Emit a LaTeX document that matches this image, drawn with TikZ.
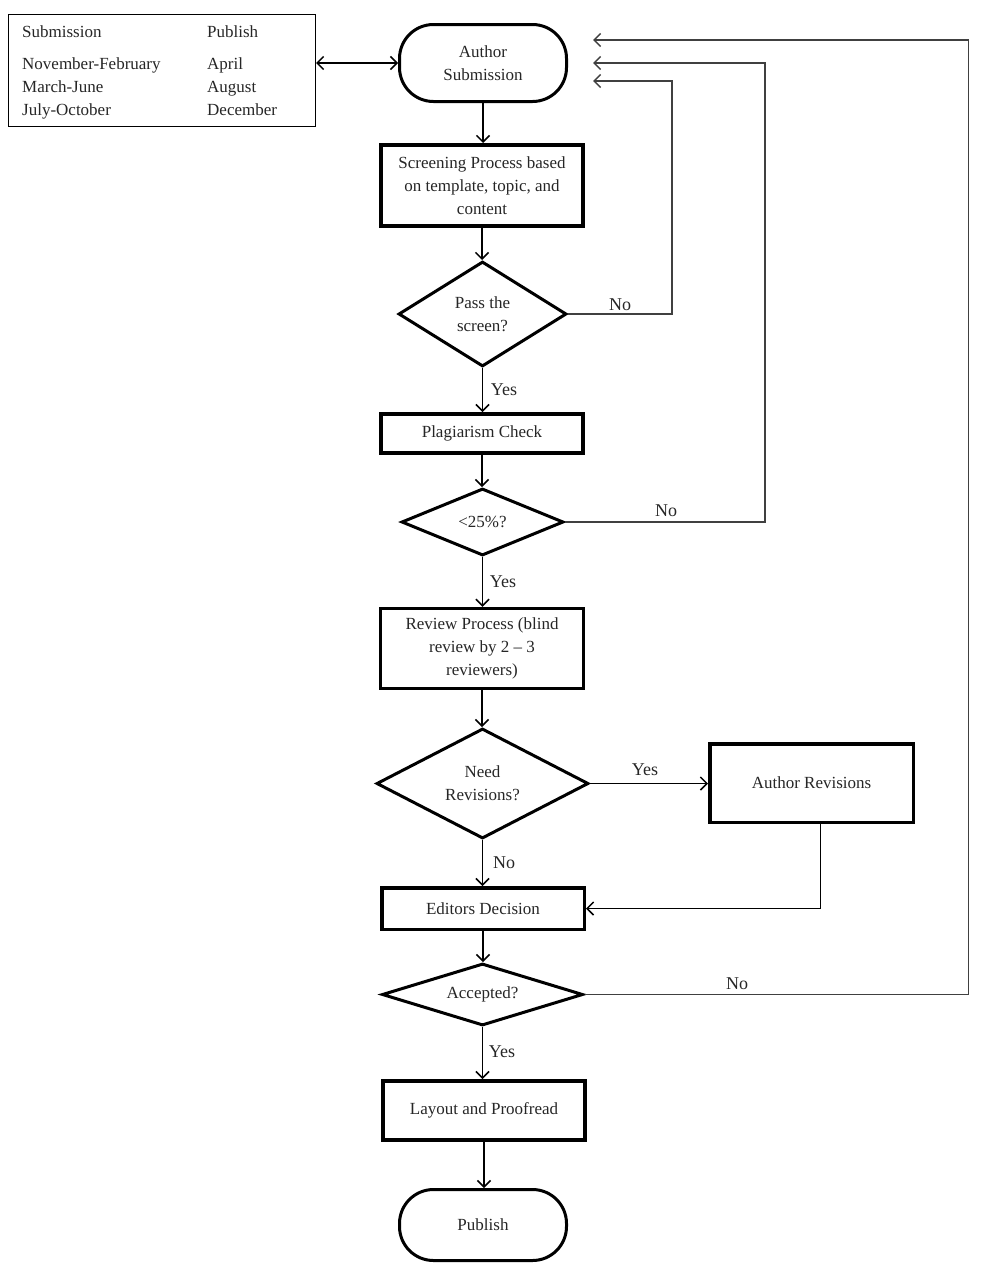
\documentclass[tikz,border=0pt]{standalone}
\usepackage{fontspec}
\setmainfont{Liberation Serif}
\usetikzlibrary{shapes.geometric,arrows.meta}
\begin{document}
\begin{tikzpicture}[x=1pt,y=-1pt,
  base/.style={font=\fontsize{17}{23}\selectfont, align=center, inner sep=0pt, text=black!85},
  term/.style={base, draw, line width=3pt, rounded corners=34pt, minimum width=167pt, minimum height=77pt},
  proc/.style={base, draw, line width=4pt},
  dec/.style={base, draw, diamond, line width=3pt},
  lbl/.style={font=\fontsize{18}{20}\selectfont, inner sep=0pt, text=black!85},
  tbltxt/.style={font=\fontsize{17}{20}\selectfont, inner sep=0pt, anchor=base west, text=black!85},
  flow/.style={line width=1.5pt, -{Straight Barb[length=6.5pt,width=13pt,line width=1.5pt]}},
  loopline/.style={line width=1.1pt, draw=black!75, -{Straight Barb[length=6.5pt,width=13pt,line width=1.5pt]}}
]
\useasboundingbox (0,0) rectangle (995,1280);

% schedule table
\node[draw, line width=1pt, minimum width=307pt, minimum height=112pt, inner sep=0pt] (tbl) at (162,70.5) {};
\node[tbltxt] (t1a) at (22,37) {Submission};
\node[tbltxt] (t1b) at (207,37) {Publish};
\node[tbltxt] (t2a) at (22,69) {November-February};
\node[tbltxt] (t2b) at (207,69) {April};
\node[tbltxt] (t3a) at (22,92) {March-June};
\node[tbltxt] (t3b) at (207,92) {August};
\node[tbltxt] (t4a) at (22,115) {July-October};
\node[tbltxt] (t4b) at (207,115) {December};

% flow nodes
\node[term] (auth) at (483,63) {Author\\Submission};
\node[proc, minimum width=202pt, minimum height=81pt] (scr) at (482,185.5) {Screening Process based\\on template, topic, and\\content};
\node[dec, minimum width=168pt, minimum height=105pt] (pass) at (482.5,314) {Pass the\\screen?};
\node[proc, minimum width=202pt, minimum height=39pt] (plag) at (482,433.5) {Plagiarism Check};
\node[dec, aspect=3, minimum width=162pt, minimum height=67pt] (pct) at (482.5,522) {<25\%?};
\node[proc, line width=3.5pt, minimum width=203pt, minimum height=80pt] (revp) at (482,648.5) {Review Process (blind\\review by 2 -- 3\\reviewers)};
\node[dec, minimum width=212pt, minimum height=110pt] (need) at (482.5,783.5) {Need\\Revisions?};
\node[proc, line width=3.5pt, minimum width=203.5pt, minimum height=78.5pt] (arev) at (811.5,783) {Author Revisions};
\node[proc, line width=3.5pt, minimum width=202.5pt, minimum height=41.5pt] (ed) at (483,908.5) {Editors Decision};
\node[dec, aspect=3.2, minimum width=201pt, minimum height=62pt] (acc) at (482.5,994.5) {Accepted?};
\node[proc, minimum width=202pt, minimum height=59pt] (lay) at (484,1110.5) {Layout and Proofread};
\node[term, minimum height=71pt] (pub) at (483,1225) {Publish};

% main flow
\draw[line width=1.5pt, {Straight Barb[length=6.5pt,width=13pt,line width=1.5pt]}-{Straight Barb[length=6.5pt,width=13pt,line width=1.5pt]}] (tbl.east |- auth.west) -- (auth.west);
\draw[flow] (auth.south) -- (auth.south |- scr.north);
\draw[flow] (scr.south) -- (scr.south |- pass.north);
\draw[flow] (pass.south) -- (pass.south |- plag.north);
\draw[flow] (plag.south) -- (plag.south |- pct.north);
\draw[flow] (pct.south) -- (pct.south |- revp.north);
\draw[flow] (revp.south) -- (revp.south |- need.north);
\draw[flow] (need.east) -- (need.east -| arev.west);
\draw[flow] (need.south) -- (need.south |- ed.north);
\draw[flow] ([xshift=9pt]arev.south) |- (ed.east);
\draw[flow] (ed.south) -- (ed.south |- acc.north);
\draw[flow] (acc.south) -- (acc.south |- lay.north);
\draw[flow] (lay.south) -- (lay.south |- pub.north);

% return loops
\draw[loopline] (pass.east) -- ++(104pt,0) |- ([xshift=25pt,yshift=-18pt]auth.east);
\draw[loopline] (pct.east) -- ++(200pt,0) |- ([xshift=25pt]auth.east);
\draw[loopline] (acc.east) -- ++(384pt,0) |- ([xshift=25pt,yshift=23pt]auth.east);

% labels
\node[lbl] (l1) at (620,305) {No};
\node[lbl] (l2) at (504,390) {Yes};
\node[lbl] (l3) at (666,511) {No};
\node[lbl] (l4) at (503,582) {Yes};
\node[lbl] (l5) at (645,770) {Yes};
\node[lbl] (l6) at (504,863) {No};
\node[lbl] (l7) at (737,984) {No};
\node[lbl] (l8) at (502,1052) {Yes};
\end{tikzpicture}
\end{document}
